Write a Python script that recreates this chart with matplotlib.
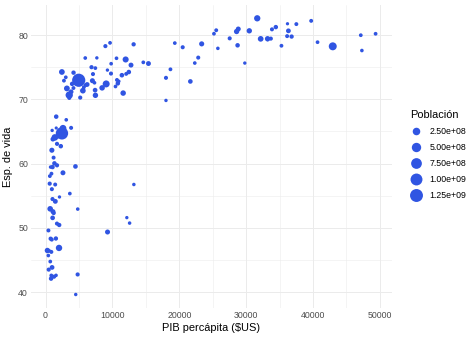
import numpy as np
import matplotlib
matplotlib.use("Agg")
from matplotlib import pyplot as plt
from matplotlib.lines import Line2D

# gapminder 2007: PIB per capita, esperanza de vida, poblacion
pib = [974.58, 5937.03, 6223.37, 4797.23, 12779.38, 34435.37, 36126.49, 29796.05,
       1391.25, 33692.61, 1441.28, 3822.14, 7446.30, 12569.85, 9065.80, 10680.79,
       1217.03, 430.07, 1713.78, 2042.10, 36319.24, 706.02, 1704.06, 13171.64,
       4959.11, 7006.58, 986.15, 277.55, 3632.56, 9645.06, 1544.75, 14619.22,
       8948.10, 22833.31, 35278.42, 2082.48, 6025.37, 6873.26, 5581.18, 5728.35,
       12154.09, 641.37, 690.81, 33207.08, 30470.02, 13206.48, 752.75, 32170.37,
       1327.61, 27538.41, 5186.05, 942.65, 579.23, 1201.64, 3548.33, 39724.98,
       18008.94, 36180.79, 2452.21, 3540.65, 11605.71, 4471.06, 40676.00, 25523.28,
       28569.72, 7320.88, 31656.07, 4519.46, 1463.25, 1593.07, 23348.14, 47306.99,
       10461.06, 1569.33, 414.51, 12057.50, 1044.77, 759.35, 12451.66, 1042.58,
       1803.15, 10956.99, 11977.57, 3095.77, 9253.90, 3820.18, 823.69, 944.00,
       4811.06, 1091.36, 36797.93, 25185.01, 2749.32, 619.68, 2013.98, 49357.19,
       22316.19, 2605.95, 9809.19, 4172.84, 7408.91, 3190.48, 15389.92, 20509.65,
       19328.71, 7670.12, 10808.48, 863.09, 1598.44, 21654.83, 1712.47, 9786.53,
       862.54, 47143.18, 18678.31, 25768.26, 926.14, 9269.66, 28821.06, 3970.10,
       2602.40, 4513.48, 33859.75, 37506.42, 4184.55, 28718.28, 1107.48, 7458.40,
       882.97, 18008.51, 7092.92, 8458.28, 1056.38, 33203.26, 42951.65, 10611.46,
       11415.81, 2441.58, 3025.35, 2280.77, 1271.21, 469.71]

esp_vida = [43.828, 76.423, 72.301, 42.731, 75.320, 81.235, 79.829, 75.635,
            64.062, 79.441, 56.728, 65.554, 74.852, 50.728, 72.390, 73.005,
            52.295, 49.580, 59.723, 50.430, 80.653, 44.741, 50.651, 78.553,
            72.961, 72.889, 65.152, 46.462, 55.322, 78.782, 48.328, 75.748,
            78.273, 76.486, 78.332, 54.791, 72.235, 74.994, 71.338, 71.878,
            51.579, 58.040, 52.947, 79.313, 80.657, 56.735, 59.448, 79.406,
            60.022, 79.483, 70.259, 56.007, 46.388, 60.916, 70.198, 82.208,
            73.338, 81.757, 64.698, 70.650, 70.964, 59.545, 78.885, 80.745,
            80.546, 72.567, 82.603, 72.535, 54.110, 67.297, 78.623, 77.588,
            71.993, 42.592, 45.678, 73.952, 59.443, 48.303, 74.241, 54.467,
            64.164, 72.801, 76.195, 66.803, 74.543, 71.164, 42.082, 62.069,
            52.906, 63.785, 79.762, 80.204, 72.899, 56.867, 46.859, 80.196,
            75.640, 65.483, 75.537, 71.752, 71.421, 71.688, 75.563, 78.098,
            78.746, 76.442, 72.476, 46.242, 65.528, 72.777, 63.062, 74.002,
            42.568, 79.972, 74.663, 77.926, 48.159, 49.339, 80.941, 72.396,
            58.556, 39.613, 80.884, 81.701, 74.143, 78.400, 52.517, 70.616,
            58.420, 69.819, 73.923, 71.777, 51.542, 79.425, 78.242, 76.384,
            73.747, 74.249, 73.422, 62.698, 42.384, 43.487]

poblacion = [31889923, 3600523, 33333216, 12420476, 40301927, 20434176, 8199783, 708573,
             150448339, 10392226, 8078314, 9119152, 4552198, 1639131, 190010647, 7322858,
             14326203, 8390505, 14131858, 17696293, 33390141, 4369038, 10238807, 16284741,
             1318683096, 44227550, 710960, 64606759, 3800610, 4133884, 18013409, 4493312,
             11416987, 10228744, 5468120, 496374, 9319622, 13755680, 80264543, 6939688,
             551201, 4906585, 76511887, 5238460, 61083916, 1454867, 1688359, 82400996,
             22873338, 10706290, 12572928, 9947814, 1472041, 8502814, 7483763, 6980412,
             9956108, 301931, 1110396331, 223547000, 69453570, 27499638, 4109086, 6426679,
             58147733, 2780132, 127467972, 6053193, 35610177, 23301725, 49044790, 2505559,
             3921278, 2012649, 3193942, 6036914, 19167654, 13327079, 24821286, 12031795,
             3270065, 1250882, 108700891, 2874127, 684736, 33757175, 19951656, 47761980,
             2055080, 28901790, 16570613, 4115771, 5675356, 12894865, 135031164, 4627926,
             3204897, 169270617, 3242173, 6667147, 28674757, 91077287, 38518241, 10642836,
             3942491, 798094, 22276056, 8860588, 199579, 27601038, 12267493, 10150265,
             6144562, 4553009, 5447502, 2009245, 9118773, 43997828, 40448191, 20378239,
             42292929, 1133066, 9031088, 7554661, 19314747, 23174294, 38139640, 65068149,
             5701579, 1056608, 10276158, 71158647, 29170398, 60776238, 301139947, 3447496,
             26084662, 85262356, 4018332, 22211743, 11746035, 12311143]

cortes_pob = [2.5e8, 5.0e8, 7.5e8, 1.0e9, 1.25e9]
etiquetas_pob = ["2.50e+08", "5.00e+08", "7.50e+08", "1.00e+09", "1.25e+09"]
ticks_x = [0, 10000, 20000, 30000, 40000, 50000]
ticks_y = [40, 50, 60, 70, 80]

azul = "#3055e2"
gris_txt = "#4d4d4d"
gris_grid = "#ebebeb"

plt.rcParams['font.family'] = ['Liberation Sans', 'DejaVu Sans']

pib = np.array(pib)
esp_vida = np.array(esp_vida)
poblacion = np.array(poblacion, dtype=float)
pmin, pmax = poblacion.min(), poblacion.max()


def diametro(p):
    # tamaño 1..6 proporcional al area, pasado a pixeles
    t = np.clip((np.asarray(p, dtype=float) - pmin) / (pmax - pmin), 0, 1)
    tam = 1 + 5 * np.sqrt(t)
    return 2.0 * tam + 1.2


def expandir(v, f=0.05):
    r = v.max() - v.min()
    return v.min() - f * r, v.max() + f * r


fig = plt.figure(figsize=(474 / 72, 338 / 72), dpi=72)
ax = fig.add_axes([31 / 474, 1 - 308.3 / 338, 361 / 474, 303.8 / 338])

ax.scatter(pib, esp_vida, s=diametro(poblacion) ** 2, color=azul,
           linewidths=0, zorder=3)

ax.set_xlim(*expandir(pib))
ax.set_ylim(*expandir(esp_vida))
ax.set_xticks(ticks_x)
ax.set_yticks(ticks_y)
ax.set_xticks([5000, 15000, 25000, 35000, 45000], minor=True)
ax.set_yticks([45, 55, 65, 75], minor=True)
ax.grid(True, which='major', color=gris_grid, linewidth=1.0, zorder=0)
ax.grid(True, which='minor', color=gris_grid, linewidth=0.5, zorder=0)
ax.set_axisbelow(True)
for lado in ax.spines.values():
    lado.set_visible(False)
ax.tick_params(which='both', length=0, labelsize=8.8, labelcolor=gris_txt, pad=3)

ax.set_xlabel("PIB percápita ($US)", fontsize=11, labelpad=3)
ax.set_ylabel("Esp. de vida", fontsize=11, labelpad=5)

# leyenda de tamaños
claves = [Line2D([], [], marker='o', linestyle='none', color=azul,
                 markeredgewidth=0, markersize=d) for d in diametro(cortes_pob)]
ley = ax.legend(claves, etiquetas_pob, title="Población", loc='upper left',
                bbox_to_anchor=(1.04, 0.665), frameon=False, fontsize=8.8,
                title_fontsize=11, labelspacing=0.8, handletextpad=0.8,
                borderaxespad=0, alignment='left', handlelength=1.4)

fig.savefig("out.png", dpi=72)
